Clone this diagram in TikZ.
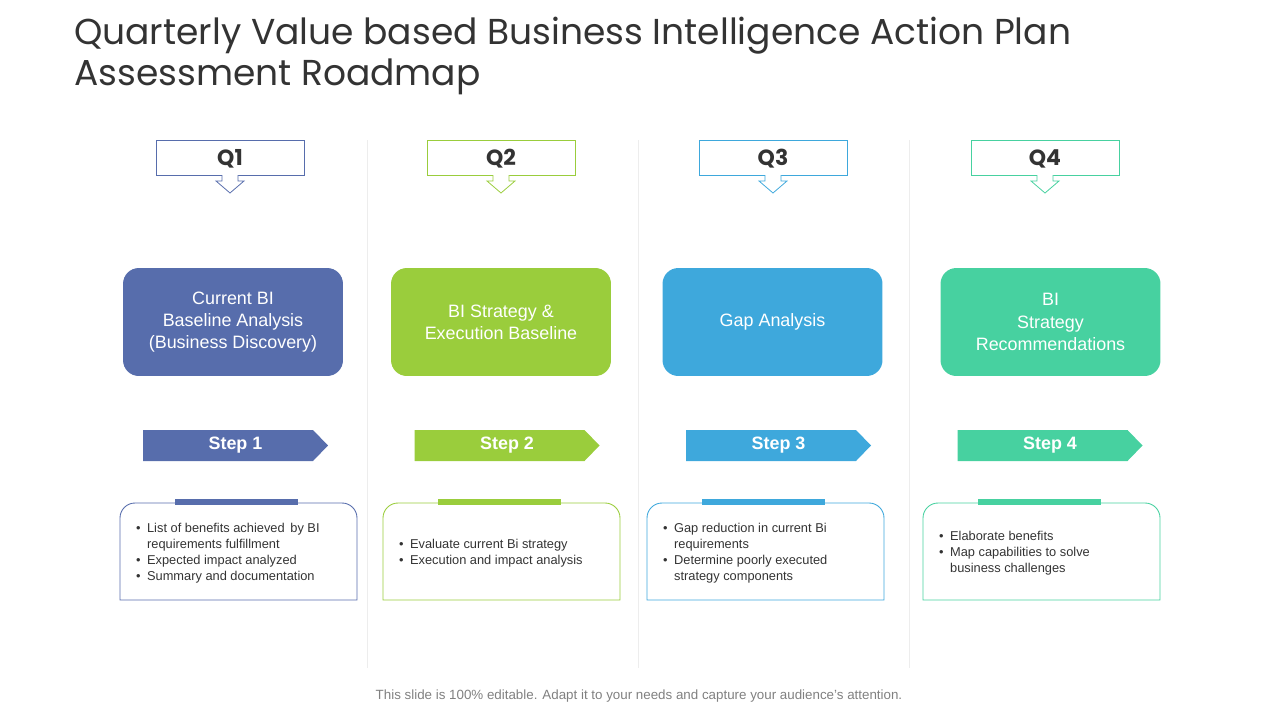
\documentclass[tikz,border=0pt]{standalone}
\usepackage{fontspec}
\setmainfont{Liberation Sans}
\newfontfamily\headfont{Poppins}
\usetikzlibrary{positioning}
\definecolor{qone}{HTML}{576DAC}
\definecolor{qtwo}{HTML}{9ACD3C}
\definecolor{qthree}{HTML}{3EA8DC}
\definecolor{qfour}{HTML}{47D1A0}
\definecolor{titlegray}{HTML}{333333}
\definecolor{rulegray}{HTML}{EDEDED}
\tikzset{
    mainbox/.style={rounded corners=9pt, minimum width=4.4cm, minimum height=2.16cm, text=white, align=center, font=\fontsize{10.2}{12.7}\selectfont},
    steptext/.style={text=white, font=\bfseries\fontsize{10.2}{12}\selectfont},
    bullettext/.style={align=left, anchor=west, text=titlegray, font=\fontsize{7.3}{9.1}\selectfont},
}
\newcommand{\bt}{\textbullet\hspace{0.5em}}
\newcommand{\bi}{\phantom{\textbullet}\hspace{0.5em}}
\begin{document}
\begin{tikzpicture}[x=0.02cm,y=-0.02cm]
    \useasboundingbox (0,0) rectangle (1280,720);
    \node[anchor=north west, align=left, text=titlegray, font=\headfont\fontsize{20.5}{23.3}\selectfont] (title) at (68,11) {Quarterly Value based Business Intelligence Action Plan\\Assessment Roadmap};
    % dividers
    \foreach \x in {367,638,909}
        \draw[rulegray, line width=0.5pt] (\x,140) -- (\x,668);
    \foreach \c/\m/\s/\b/\col/\q/\head/\bul [count=\n] in {
        230/233/235.5/120/qone/Q1/{Current BI\\Baseline Analysis\\(Business Discovery)}/{\bt List of benefits achieved\, by BI\\\bi requirements fulfillment\\\bt Expected impact analyzed\\\bt Summary and documentation},
        501/501/507/383/qtwo/Q2/{BI Strategy \&\\Execution Baseline}/{\bt Evaluate current Bi strategy\\\bt Execution and impact analysis},
        773/772.5/778.5/647/qthree/Q3/{Gap Analysis}/{\bt Gap reduction in current Bi\\\bi requirements\\\bt Determine poorly executed\\\bi strategy components},
        1045/1050.5/1050/923/qfour/Q4/{BI\\Strategy\\Recommendations}/{\bt Elaborate benefits\\\bt Map capabilities to solve\\\bi business challenges}}{
        % quarter callout
        \draw[\col, line width=0.45pt, fill=white] (\c-74,140) rectangle (\c+74,175);
        \draw[\col, line width=0.45pt, fill=white] (\c-8,175) -- (\c-8,181) -- (\c-14,181) -- (\c,193) -- (\c+14,181) -- (\c+8,181) -- (\c+8,175);
        \node[text=titlegray, font=\headfont\bfseries\fontsize{12.5}{14}\selectfont] (q\n) at (\c,159) {\q};
        % main box
        \node[mainbox, fill=\col] (box\n) at (\m,322) {\head};
        % step arrow
        \fill[\col] (\s-92.5,430) -- (\s+77.5,430) -- (\s+92.5,445.5) -- (\s+77.5,461) -- (\s-92.5,461) -- cycle;
        \node[steptext] (step\n) at (\s,445.5) {Step \n};
        % details
        \draw[\col, line width=0.5pt] (\b,600) -- (\b,518) arc (180:270:15) -- (\b+222,503) arc (270:360:15) -- (\b+237,600) -- cycle;
        \draw[\col, line width=3pt] (\b+55,502) -- (\b+178,502);
        \node[bullettext] (bul\n) at (\b+10,553) {\bul};
    }
    \node[text=gray, font=\fontsize{7.6}{9}\selectfont] (foot) at (639,696) {This slide is 100\% editable. Adapt it to your needs and capture your audience's attention.};
\end{tikzpicture}
\end{document}
